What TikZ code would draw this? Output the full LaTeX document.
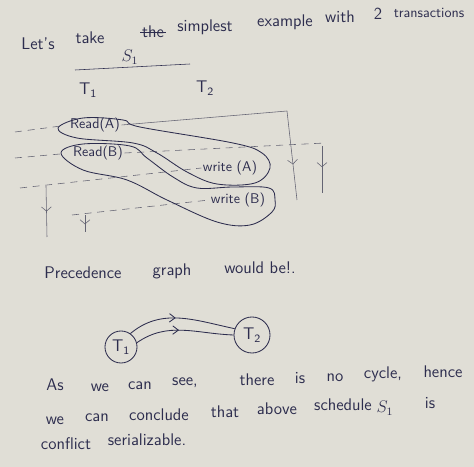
\documentclass[tikz,border=0pt]{standalone}
\usetikzlibrary{positioning, calc, arrows.meta, decorations.markings}
\definecolor{paper}{RGB}{224,222,214}
\definecolor{ink}{RGB}{45,45,78}
\definecolor{pencil}{RGB}{100,100,115}
\tikzset{
  notes/.style={
	x=0.025cm, y=0.025cm, % one unit is one pixel of the scan
	every node/.style={text=ink, font=\sffamily, inner sep=1pt},
  },
  word/.style={font=\sffamily\large}, % handwritten words
  op/.style={font=\sffamily\normalsize}, % operations of the schedule
  timeline/.style={pencil, thin},
  gapline/.style={pencil, thin, dash pattern=on 5pt off 4pt}, % idle part of a transaction
  downtick/.style={postaction={decorate}, decoration={markings,
	mark=at position #1 with {\arrow{Straight Barb[length=3pt, width=7pt]}}}},
  downtick/.default=0.5,
  conflict/.style={ink, semithick}, % loops round the conflicting pairs
  txn/.style={draw=ink, semithick, circle, minimum size=0.8cm, font=\sffamily\large},
  midarrow/.style={postaction={decorate}, decoration={markings,
	mark=at position 0.45 with {\arrow{Straight Barb[length=4pt, width=6pt]}}}},
}
\begin{document}
\begin{tikzpicture}[notes]
\useasboundingbox[fill=paper] (0,0) rectangle (474,467);

% intro line
\foreach \w/\x/\y [count=\i] in {Let's/38/423, take/90/429, simplest/205/440, example/285/445, with/340/450, 2/378/453}
  \node[word] (intro\i) at (\x,\y) {\w};
\node[font=\sffamily\normalsize] (trans) at (429,454) {transactions};
\node[word] (the) at (153,435) {the};
\draw[ink] (the.west) -- (the.east);

% schedule S1
\node[word] (s1) at (130,410) {$S_1$};
\coordinate (hl) at (75,397);
\coordinate (hr) at (190,403);
\draw[ink] (hl) -- (hr);
\node[word] (T1) at (88,377) {T\textsubscript{1}};
\node[word] (T2) at (205,379) {T\textsubscript{2}};

\node[op] (readA) at (95,342) {Read(A)};
\node[op] (readB) at (98,314) {Read(B)};
\node[op] (writeA) at (230,299) {write (A)};
\node[op] (writeB) at (238,267) {write (B)};

\coordinate (a0) at (15,335);
\coordinate (aTop) at (287,356);
\coordinate (aEnd) at (297,267);
\coordinate (b0) at (15,309);
\coordinate (bTop) at (325,324);
\coordinate (bV) at (322,321);
\coordinate (bEnd) at (322,274);
\coordinate (c0) at (20,279);
\coordinate (cV) at (46,281);
\coordinate (cEnd) at (47,230);
\coordinate (d0) at (72,252);
\coordinate (dV) at (85,252);
\coordinate (dEnd) at (85,235);

\draw[gapline, shorten >=6pt] (a0) -- (readA.west);
\draw[timeline] (readA.east) -- (aTop);
\draw[timeline, downtick=0.6] (aTop) -- (aEnd);
\draw[gapline, shorten >=6pt] (b0) -- (readB.west);
\draw[gapline] (readB.east) -- (bTop);
\draw[timeline, downtick=0.45] (bV) -- (bEnd);
\draw[gapline] (c0) -- (writeA.west);
\draw[timeline, downtick=0.5] (cV) -- (cEnd);
\draw[gapline] (d0) -- (writeB.west);
\draw[timeline, downtick=0.55] (dV) -- (dEnd);

\draw[conflict] plot[smooth cycle, tension=0.6] coordinates {(58,339) (83,349) (123,347) (140,340) (233,324) (262,314) (270,299) (255,284) (217,283) (187,295) (157,314) (133,324) (77,329)};
\draw[conflict] plot[smooth cycle, tension=0.6] coordinates {(61,314) (83,323) (130,321) (147,309) (173,290) (197,279) (233,280) (269,279) (275,267) (272,255) (250,242) (217,245) (167,267) (127,287) (83,297)};

% precedence graph
\node[word] (prec) at (83,194) {Precedence};
\node[word] (graph) at (172,196) {graph};
\node[word] (would) at (260,199) {would be!.};

\node[txn] (t1) at (121,120) {T\textsubscript{1}};
\node[txn, minimum size=0.9cm] (t2) at (252,132) {T\textsubscript{2}};
\draw[conflict, midarrow] (t1.55) to[out=40, in=168] (t2.160);
\draw[conflict, midarrow] (t1.15) to[out=35, in=178] (t2.180);

% conclusion
\foreach \w/\x/\y [count=\i] in {As/55/82, we/100/79, can/140/81, see{,}/185/84, there/257/87, is/300/89, no/335/89, cycle{,}/383/93, hence/443/95,
	we/55/46, can/97/49, conclude/159/52, that/225/55, above/277/58, schedule/343/62, $S_1$/385/59, is/430/64,
	conflict/66/23, serializable./147/27}
  \node[word] (end\i) at (\x,\y) {\w};
\end{tikzpicture}
\end{document}
